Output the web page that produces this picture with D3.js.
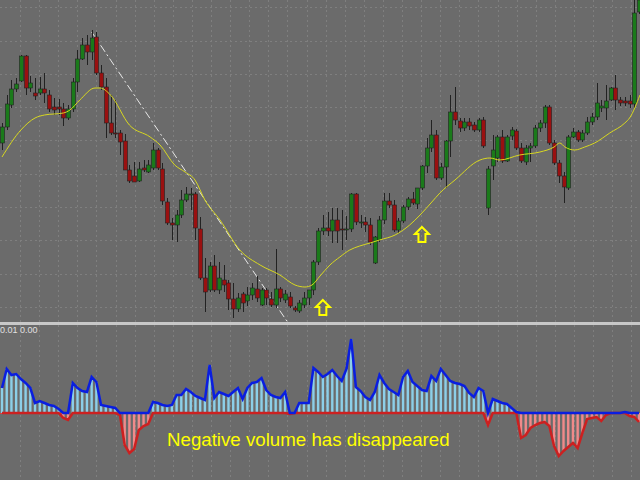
<!DOCTYPE html>
<html><head><meta charset="utf-8">
<script src="https://cdn.jsdelivr.net/npm/d3@7"></script>
<style>body{margin:0;background:#6b6b6b}svg{display:block}</style></head>
<body><svg id="c" width="640" height="480"></svg>
<script>
// Price levels (screen-level units, larger = lower on chart)
const opens  = [143,127,105,89,81,56,88,93,93,89,95,107,107,109,118,109,82,59,45,52,37,73,87,123,133,133,141,170,176,181,168,172,168,150,169,202,223,225,215,200,194,194,229,278,290,266,290,280,283,299,309,294,301,295,289,305,290,299,305,289,300,297,308,311,305,298,290,262,
231,228,231,220,229,230,229,194,222,222,225,263,240,220,201,205,230,221,207,199,204,188,166,148,135,178,167,141,112,121,128,122,125,130,120,208,166,158,137,161,136,131,148,162,148,146,128,123,107,143,163,176,188,137,132,140,133,122,117,108,108,100,88,100,101,101,104,12];
const closes = [127,104,89,84,56,88,83,96,89,93,109,110,109,118,109,82,59,45,52,38,73,87,123,133,134,142,170,181,182,169,170,165,150,168,201,223,225,215,200,194,194,228,278,292,266,290,278,285,299,309,298,303,295,288,298,290,298,305,289,298,294,306,310,303,298,290,262,231,
228,231,220,231,230,229,194,222,222,225,242,237,220,201,205,230,221,207,199,203,188,166,148,135,178,167,141,112,120,128,122,126,130,120,146,169,150,137,161,137,130,148,161,148,146,128,123,107,143,163,176,187,137,132,140,133,122,117,103,106,101,88,100,103,103,104,13,0];
const highs  = [123,95,80,78,55,55,76,78,77,73,90,98,99,103,105,78,50,38,35,30,32,65,78,95,100,130,134,165,162,162,160,160,143,148,163,198,218,210,190,187,188,192,217,258,262,255,262,265,280,283,293,292,287,283,276,288,288,292,249,287,290,292,306,300,292,290,260,228,
215,212,208,208,210,216,193,193,215,217,218,236,216,193,193,200,218,205,197,192,190,165,138,120,130,163,140,95,87,118,118,118,122,118,117,166,135,135,130,135,127,129,143,145,143,125,120,105,105,140,160,172,135,128,130,130,117,113,83,100,85,87,75,97,97,95,0,0];
const lows   = [150,130,108,92,82,95,92,100,95,103,112,115,115,126,120,112,92,60,65,60,75,90,138,135,138,155,170,183,182,182,172,173,170,170,205,225,240,242,218,202,210,240,280,312,292,292,294,292,310,318,312,312,306,300,302,306,305,307,308,302,303,308,312,313,308,305,295,265,
235,236,243,243,250,240,232,225,228,232,245,264,242,224,208,232,233,223,210,205,209,190,173,152,180,180,188,157,125,132,131,130,132,132,148,215,180,162,163,162,140,150,163,165,162,148,132,128,145,165,183,203,190,138,142,142,135,125,120,112,120,101,110,106,106,108,108,14];
// Moving average readings: [candle position, level]
const maPos = [0,4,7,9,13,14.4,16.5,19.7,20.8,23,27,31.4,33.5,36.6,38.8,40.9,43,46.2,50.4,54.7,58.9,62.1,64.2,65.7,67.4,69.5,71.6,73.7,75.8,78,80,83.3,86.4,88.6,91.1,92.8,96,101.3,103.4,105.5,109.7,114,117,118.2,119.3,121.4,123.5,125.6,128.8,132,133,135.2];
const maVal = [157,130,118,115,113,110,100,88,88,95,125,137,145,165,172,180,200,220,250,265,275,285,287,285,276,265,257,250,246,243,240,235,225,215,202,193,180,160,158,160,155,152,147,143,147,150,147,143,133,123,118,95];
// Indicator histogram values (bars, zero-based)
const volVals = [25,44,38,39,34,30,25,10,12,10,8,7,4,-5,-7,30,25,22,21,36,31,8,7,6,5,-2,-32,-40,-36,-17,-13,-11,11,10,8,7,8,18,18,24,21,17,15,13,48,15,21,19,17,21,25,14,25,30,31,35,23,18,16,15,21,-1,0,10,10,10,45,41,36,39,43,37,32,44,74,26,22,16,13,21,38,30,24,21,18,36,42,31,27,23,22,37,32,44,38,32,30,29,27,20,16,25,22,-12,14,12,10,9,5,1,-25,-22,-15,-12,-10,-9,-13,-33,-43,-38,-34,-30,-35,-20,-6,-5,-4,-8,-2,0,0,0,1,-3,-4,-9];
const trendPos = [19, 60.5];
const trendVal = [32, 322];
const arrowPos = [68, 89];
const labels = {scale:"0.01 0.00", note:"Negative volume has disappeared"};

const svg = d3.select("#c");
const n = opens.length;
const x = d3.scaleLinear().domain([0, n-1]).range([2, 639]);
const y = d3.scaleLinear().domain([0, 322]).range([0, 322]);
const yv = d3.scaleLinear().domain([0, 100]).range([413, 313]);

svg.append("rect").attr("width",640).attr("height",480).attr("fill","#6b6b6b");
const grid = svg.append("g").attr("stroke","#7f7f7f").attr("stroke-dasharray","2,3").attr("stroke-width",1);
for (let gx = 20; gx < 640; gx += 19.1) grid.append("line").attr("x1",Math.round(gx)+0.5).attr("x2",Math.round(gx)+0.5).attr("y1",0).attr("y2",480);
for (let gy = 307; gy > 0; gy -= 33.3) grid.append("line").attr("y1",Math.round(gy)+0.5).attr("y2",Math.round(gy)+0.5).attr("x1",0).attr("x2",640);

svg.append("line").attr("x1",x(trendPos[0])).attr("y1",y(trendVal[0])).attr("x2",x(trendPos[1])).attr("y2",y(trendVal[1]))
  .attr("stroke","#e8e8e8").attr("stroke-width",1).attr("stroke-dasharray","8,3,2,3");

const cg = svg.append("g");
d3.range(n).forEach(i=>{
  const cx = x(i), up = closes[i] <= opens[i];
  cg.append("line").attr("x1",Math.round(cx)+0.5).attr("x2",Math.round(cx)+0.5).attr("y1",y(highs[i])).attr("y2",y(lows[i])).attr("stroke","#222").attr("stroke-width",1);
  const t = Math.min(opens[i],closes[i]), b = Math.max(opens[i],closes[i]);
  cg.append("rect").attr("x",Math.round(cx)-1.5).attr("y",y(t)).attr("width",4).attr("height",Math.max(1,y(b)-y(t)))
    .attr("fill", up ? "#1a7a1a" : "#9a1010").attr("stroke","#222").attr("stroke-width",0.6);
});
svg.append("path").datum(maPos.map((p,i)=>[p,maVal[i]]))
  .attr("d", d3.line().x(d=>x(d[0])).y(d=>y(d[1])).curve(d3.curveMonotoneX))
  .attr("fill","none").attr("stroke","#d8d820").attr("stroke-width",1);

arrowPos.forEach(p=>{
  const ax = x(p), ay = p===68 ? 300 : 227;
  svg.append("path").attr("d",`M${ax},${ay} l7,7 h-3.5 v8 h-7 v-8 h-3.5 z`)
    .attr("fill","none").attr("stroke","#ffff00").attr("stroke-width",2);
});

svg.append("rect").attr("x",0).attr("y",322).attr("width",640).attr("height",3).attr("fill","#c8c8c8");
svg.append("text").attr("x",0).attr("y",333).attr("fill","#e0e0e0").attr("font-family","Arial, Liberation Sans").attr("font-size",9).text(labels.scale);

const hg = svg.append("g");
volVals.forEach((v,i)=>{
  if (v===0) return;
  hg.append("rect").attr("x",x(i)-1.2).attr("width",2.4)
    .attr("y", v>0 ? yv(v) : yv(0)).attr("height", Math.abs(yv(v)-yv(0)))
    .attr("fill", v>0 ? "#8ccfe8" : "#f08a8a");
});
svg.append("line").attr("x1",0).attr("x2",640).attr("y1",yv(0)+0.5).attr("y2",yv(0)+0.5).attr("stroke","#e04040").attr("stroke-dasharray","2,2");
const lineGen = d3.line().x((d,i)=>x(i)).y(d=>yv(d));
svg.append("path").datum(volVals.map(v=>Math.min(v,0))).attr("d",lineGen).attr("fill","none").attr("stroke","#cc2020").attr("stroke-width",2.5);
svg.append("path").datum(volVals.map(v=>Math.max(v,0))).attr("d",lineGen).attr("fill","none").attr("stroke","#0a1ee0").attr("stroke-width",2.5);

svg.append("text").attr("x",167).attr("y",446).attr("fill","#ffff00").attr("font-family","Arial, Liberation Sans").attr("font-size",18.7).text(labels.note);
</script></body></html>
